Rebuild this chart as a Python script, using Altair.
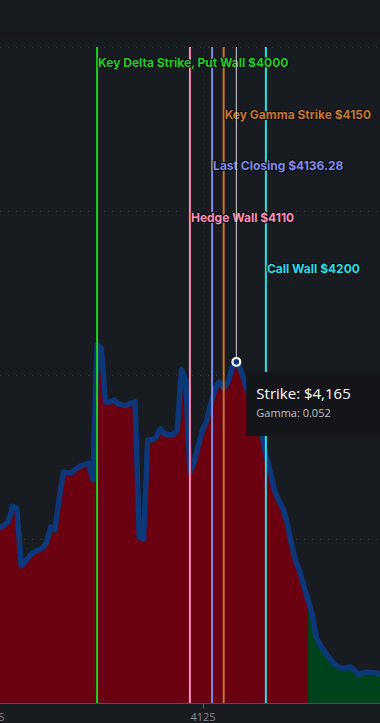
import altair as alt
import pandas as pd

# ---- data ----
strikes = [3880, 3885, 3890, 3895, 3900, 3905, 3910, 3915, 3920, 3925, 3930, 3935,
           3940, 3945, 3950, 3955, 3960, 3965, 3970, 3975, 3980, 3985, 3990, 3995,
           4000, 4005, 4010, 4015, 4020, 4025, 4030, 4035, 4040, 4045, 4050, 4055,
           4060, 4065, 4070, 4075, 4080, 4085, 4090, 4095, 4100, 4105, 4110, 4115,
           4120, 4125, 4130, 4135, 4140, 4145, 4150, 4155, 4160, 4165, 4170, 4175,
           4180, 4185, 4190, 4195, 4200, 4205, 4210, 4215, 4220, 4225, 4230, 4235,
           4240, 4245, 4250, 4255, 4260, 4265, 4270, 4275, 4280, 4285, 4290, 4295,
           4300, 4305, 4310, 4315, 4320, 4325, 4330, 4335, 4340]
gamma = [0.0268, 0.0268, 0.0271, 0.0277, 0.0300, 0.0297, 0.0209, 0.0216, 0.0224, 0.0230, 0.0233, 0.0236,
         0.0244, 0.0268, 0.0264, 0.0310, 0.0352, 0.0351, 0.0351, 0.0357, 0.0361, 0.0363, 0.0366, 0.0340,
         0.0546, 0.0541, 0.0459, 0.0459, 0.0462, 0.0456, 0.0454, 0.0454, 0.0457, 0.0459, 0.0253, 0.0250,
         0.0401, 0.0401, 0.0405, 0.0418, 0.0410, 0.0409, 0.0409, 0.0416, 0.0508, 0.0492, 0.0352, 0.0367,
         0.0393, 0.0416, 0.0431, 0.0457, 0.0480, 0.0489, 0.0480, 0.0489, 0.0511, 0.0520, 0.0508, 0.0488,
         0.0470, 0.0454, 0.0434, 0.0413, 0.0378, 0.0355, 0.0325, 0.0309, 0.0297, 0.0276, 0.0244, 0.0218,
         0.0201, 0.0178, 0.0157, 0.0134, 0.0099, 0.0087, 0.0078, 0.0069, 0.0061, 0.0056, 0.0053, 0.0053,
         0.0055, 0.0050, 0.0043, 0.0046, 0.0047, 0.0046, 0.0046, 0.0044, 0.0044]
flip_strike = 4250

level_names = ["Key Delta Strike, Put Wall $4000", "Key Gamma Strike $4150",
               "Last Closing $4136.28", "Hedge Wall $4110", "Call Wall $4200"]
level_strikes = [4000, 4150, 4136.28, 4110, 4200]
level_colors = ["#22cc22", "#c6762c", "#7f8ae6", "#ff8db8", "#27dee6"]

hover_strike = 4165
hover_gamma = 0.052
x_ticks = [3875, 4125, 4375]
y_grid = [0.025, 0.05, 0.075, 0.1]

BG = "#181b20"
LINE = "#0c3778"
W, H = 380, 656

df = pd.DataFrame({"strike": strikes, "gamma": gamma})
levels = pd.DataFrame({"name": level_names, "strike": level_strikes, "color": level_colors})
hover = pd.DataFrame({"strike": [hover_strike], "gamma": [hover_gamma], "top": [y_grid[-1]]})

xs = alt.Scale(domain=[3875, 4335.2], range=[-8.44, W], nice=False, zero=False)
ys = alt.Scale(domain=[0, 0.1], nice=False, zero=True)

x_axis = alt.Axis(values=x_ticks, title=None, format="d", grid=True, gridDash=[1, 7],
                  gridColor="#3c4046", labelColor="#878a8f", labelFontSize=11,
                  labelFont="Open Sans", tickColor="#5a5d62", tickSize=5,
                  domainColor="#4d5055", labelPadding=3, labelFlush=False,
                  labelOverlap=False)
y_axis = alt.Axis(values=y_grid, title=None, labels=False, ticks=False, domain=False,
                  grid=True, gridDash=[1, 7], gridColor="#3c4046")

X = lambda f="strike": alt.X(f"{f}:Q", scale=xs, axis=x_axis)
Y = lambda f="gamma": alt.Y(f"{f}:Q", scale=ys, axis=y_axis)

base = alt.Chart(df)

red = base.transform_filter(alt.datum.strike <= flip_strike).mark_area(
    color="#6a0010", opacity=1).encode(x=X(), y=Y())
green = base.transform_filter(alt.datum.strike >= flip_strike).mark_area(
    color="#00421c", opacity=1).encode(x=X(), y=Y())
line = base.mark_line(color=LINE, strokeWidth=5.5, strokeJoin="round").encode(x=X(), y=Y())

top_line = alt.Chart(hover).mark_rule(color="#0f1114", strokeWidth=1).encode(
    x=alt.value(0), x2=alt.value(W), y=alt.value(-14))

rules = alt.Chart(levels).mark_rule(strokeWidth=2).encode(
    x=X(), color=alt.Color("color:N", scale=None))

labels = []
for i, (nm, st, col) in enumerate(zip(level_names, level_strikes, level_colors)):
    d = pd.DataFrame({"name": [nm], "strike": [st]})
    common = dict(align="left", baseline="alphabetic", dx=1, font="Inter",
                  fontSize=12, fontWeight=700)
    shadow = alt.Chart(d).mark_text(color="#0b0d10", stroke="#0b0d10", strokeWidth=2,
                                    **common).encode(
        x=X(), y=alt.value(20 + 51.5 * i), text="name:N")
    txt = alt.Chart(d).mark_text(color=col, **common).encode(
        x=X(), y=alt.value(20 + 51.5 * i), text="name:N")
    labels += [shadow, txt]

hv = alt.Chart(hover)
hover_rule = hv.mark_rule(color="#d6d6d6", strokeWidth=1).encode(
    x=X(), y=Y("top"), y2="gamma:Q")
hover_pt = hv.mark_point(filled=True, fill=LINE, stroke="white", strokeWidth=2.2,
                         size=60, opacity=1).encode(x=X(), y=Y())
tip_box = hv.mark_rect(color="#131518", xOffset=10, yOffset=10, y2Offset=74).encode(
    x=X(), x2=alt.value(400), y=Y(), y2="gamma:Q")
tip_t1 = hv.transform_calculate(
    t="'Strike: $' + format(datum.strike, ',')").mark_text(
    align="left", baseline="alphabetic", dx=20, dy=37, fontSize=15, color="#ffffff",
    font="Open Sans").encode(x=X(), y=Y(), text="t:N")
tip_t2 = hv.transform_calculate(
    t="'Gamma: ' + format(datum.gamma, '.3f')").mark_text(
    align="left", baseline="alphabetic", dx=20, dy=55, fontSize=11, color="#c2c2c2",
    font="Open Sans").encode(x=X(), y=Y(), text="t:N")

chart = alt.layer(
    red, green, line, top_line, rules, *labels, hover_rule, hover_pt,
    tip_box, tip_t1, tip_t2
).properties(
    width=W, height=H,
    padding={"left": 0, "right": 0, "top": 47, "bottom": 20},
    autosize=alt.AutoSizeParams(type="none"),
    background=BG,
).configure_view(stroke=None)

chart.save("out.html", embed_options={"renderer": "svg", "actions": False})
